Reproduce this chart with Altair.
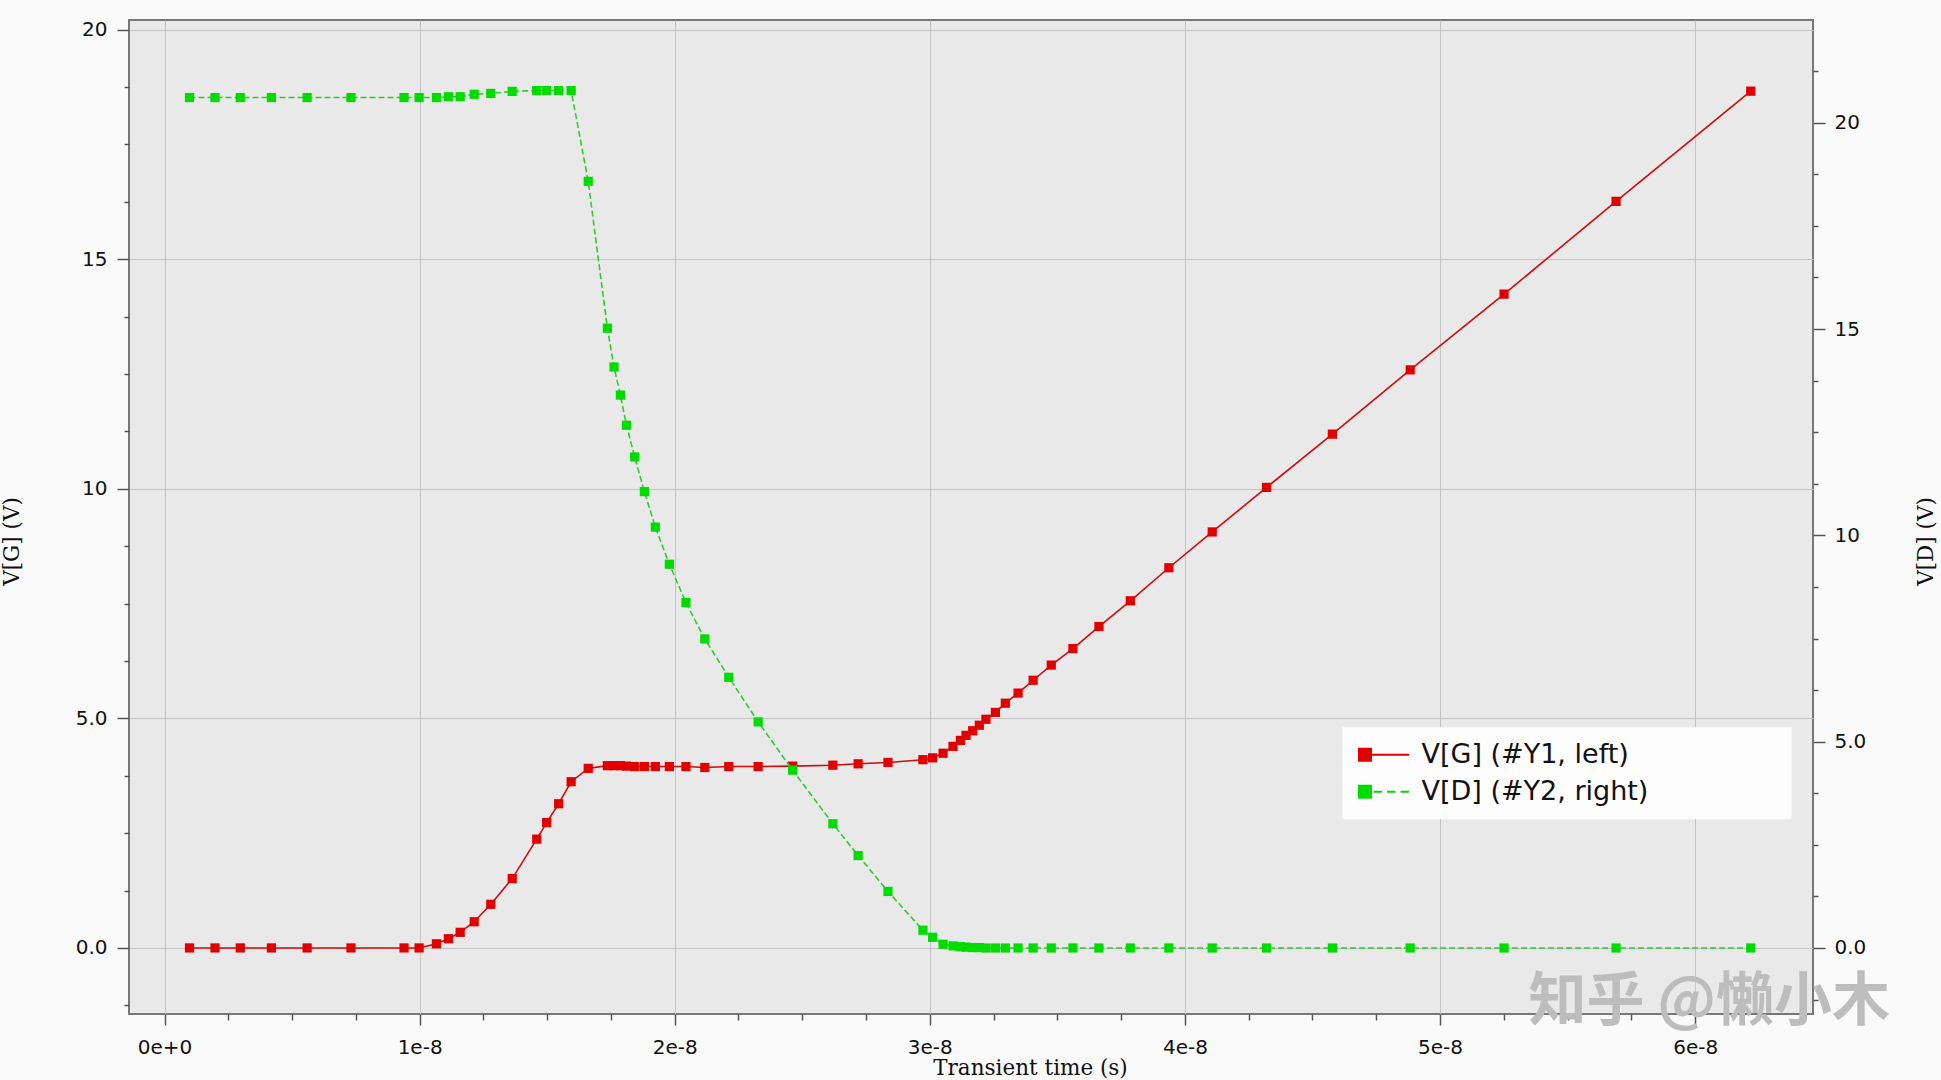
import altair as alt
import pandas as pd

# ---- data (time in units of 1e-8 s) ----
TIME_E8 = [0.098, 0.198, 0.297, 0.419, 0.559, 0.731, 0.939, 0.998,
           1.066, 1.113, 1.159, 1.214, 1.279, 1.363,
           1.459, 1.498, 1.545, 1.594, 1.661,
           1.736, 1.762, 1.787, 1.811, 1.843, 1.881,
           1.924, 1.979, 2.044, 2.118, 2.212, 2.327,
           2.462, 2.620, 2.719, 2.836, 2.973, 3.011, 3.052,
           3.091, 3.120, 3.142, 3.168, 3.194, 3.220,
           3.257, 3.296, 3.346, 3.405, 3.476, 3.561, 3.663, 3.786,
           3.937, 4.107, 4.320, 4.578, 4.883, 5.251, 5.690, 6.218]
VG = [0, 0, 0, 0, 0, 0, 0, 0,
      0.09, 0.20, 0.34, 0.57, 0.95, 1.51,
      2.37, 2.73, 3.14, 3.62, 3.91,
      3.97, 3.97, 3.97, 3.96, 3.95, 3.95,
      3.95, 3.95, 3.95, 3.93, 3.95, 3.95,
      3.96, 3.98, 4.01, 4.04, 4.10, 4.14, 4.24,
      4.39, 4.52, 4.63, 4.73, 4.85, 4.98,
      5.13, 5.33, 5.55, 5.83, 6.16, 6.52, 7.00, 7.56,
      8.28, 9.06, 10.03, 11.19, 12.59, 14.24, 16.26, 18.66]
VD = [20.61, 20.61, 20.61, 20.61, 20.61, 20.61, 20.61, 20.61,
      20.61, 20.63, 20.63, 20.69, 20.71, 20.76,
      20.78, 20.78, 20.78, 20.78, 18.58,
      15.02, 14.08, 13.40, 12.67, 11.90, 11.06,
      10.20, 9.30, 8.37, 7.49, 6.56, 5.48,
      4.31, 3.01, 2.24, 1.37, 0.43, 0.26, 0.09,
      0.05, 0.03, 0.02, 0.01, 0.01, 0.0,
      0, 0, 0, 0, 0, 0, 0, 0,
      0, 0, 0, 0, 0, 0, 0, 0]
SERIES = ["V[G] (#Y1, left)", "V[D] (#Y2, right)"]
X_TICKS_E8 = [0, 0.25, 0.5, 0.75, 1, 1.25, 1.5, 1.75, 2, 2.25, 2.5, 2.75, 3,
              3.25, 3.5, 3.75, 4, 4.25, 4.5, 4.75, 5, 5.25, 5.5, 5.75, 6, 6.25]
Y_LEFT_TICKS = [-1.25, 0, 1.25, 2.5, 3.75, 5, 6.25, 7.5, 8.75, 10, 11.25,
                12.5, 13.75, 15, 16.25, 17.5, 18.75, 20]
Y_RIGHT_TICKS = [-1.25, 0, 1.25, 2.5, 3.75, 5, 6.25, 7.5, 8.75, 10, 11.25,
                 12.5, 13.75, 15, 16.25, 17.5, 18.75, 20, 21.25]

df = pd.DataFrame({"t": [v * 1e-8 for v in TIME_E8], "vg": VG, "vd": VD})

RED_PT, RED_LN = "#e00000", "#d10a0a"
GRN_PT, GRN_LN = "#00dc00", "#2fcc2f"
# legend glyphs: square marker followed by a solid / dashed line (12 px per unit)
PATH_R = ("M-1,-0.583H0.167V0.583H-1Z "
          "M0.167,-0.083H3.25V0.083H0.167Z")
PATH_G = ("M-1,-0.583H0.167V0.583H-1Z "
          "M0.3,-0.083H1.0V0.083H0.3Z "
          "M1.42,-0.083H2.12V0.083H1.42Z "
          "M2.55,-0.083H3.25V0.083H2.55Z")

LABEL_FONT = "DejaVu Sans"
TITLE_FONT = "DejaVu Serif"
X_MAJOR = "abs(datum.value*1e8 - round(datum.value*1e8)) < 1e-6"
Y_MAJOR = "abs(datum.value/5 - round(datum.value/5)) < 1e-6"
Y_LABEL = f"({Y_MAJOR}) ? (datum.value === 0 ? '0.0' : format(datum.value, '.2r')) : ''"

common_axis = dict(
    domain=False, tickColor="#555555", tickWidth=1.5,
    labelFont=LABEL_FONT, labelFontSize=20, labelColor="#111111",
    labelOverlap=False, labelFlush=False,
    titleFont=TITLE_FONT, titleFontSize=21.5, titleFontWeight="normal",
    titleColor="#111111", gridColor="#c3c3c3", gridWidth=1,
)

x_axis = alt.Axis(
    values=[v * 1e-8 for v in X_TICKS_E8],
    labelExpr=f"({X_MAJOR}) ? format(datum.value, '.0e') : ''",
    tickSize={"condition": {"test": X_MAJOR, "value": 11}, "value": 6},
    gridOpacity={"condition": {"test": X_MAJOR, "value": 1}, "value": 0},
    labelPadding=12, title="Transient time (s)",
    titleX=901, titleY=54, titleBaseline="middle", titleAlign="center",
    **common_axis,
)
yl_axis = alt.Axis(
    orient="left", values=Y_LEFT_TICKS, labelExpr=Y_LABEL,
    tickSize={"condition": {"test": Y_MAJOR, "value": 12}, "value": 5},
    gridOpacity={"condition": {"test": Y_MAJOR, "value": 1}, "value": 0},
    labelPadding=10, title="V[G] (V)",
    titleX=-117, titleY=521, titleAngle=270, titleBaseline="middle", titleAlign="center",
    **common_axis,
)
yr_axis = alt.Axis(
    orient="right", values=Y_RIGHT_TICKS, grid=False, labelExpr=Y_LABEL,
    tickSize={"condition": {"test": Y_MAJOR, "value": 12}, "value": 5},
    labelPadding=9, title="V[D] (V)",
    titleX=113, titleY=521, titleAngle=270, titleBaseline="middle", titleAlign="center",
    **common_axis,
)

x_enc = alt.X("t:Q", scale=alt.Scale(domain=[-0.1392e-8, 6.462e-8], nice=False, zero=False), axis=x_axis)
yl_enc = alt.Y("vg:Q", scale=alt.Scale(domain=[-1.439, 20.21], nice=False, zero=False), axis=yl_axis)
yr_enc = alt.Y("vd:Q", scale=alt.Scale(domain=[-1.60, 22.49], nice=False, zero=False), axis=yr_axis)

# non-breaking spaces closed by a zero-width space so the padding is not trimmed
LABEL_PAD = "\\u00a0" * 15 + "\\u200b"
LEG = alt.Legend(
    orient="none", legendX=1213.5, legendY=707.3, direction="vertical",
    title=None, fillColor="#fdfdfd", padding=14,
    symbolSize=576, symbolStrokeWidth=0, symbolOpacity=1,
    labelFont=LABEL_FONT, labelFontSize=27, labelColor="#111111",
    labelLimit=900, labelOffset=38, rowPadding=9,
    labelExpr=f"datum.label + '{LABEL_PAD}'",
)

base = alt.Chart(df)

legend_layer = base.transform_filter("false").mark_point(filled=True, opacity=1).encode(
    x=x_enc, y=yl_enc,
    color=alt.Color("series:N", scale=alt.Scale(domain=SERIES, range=[RED_PT, GRN_PT]), legend=LEG),
    shape=alt.Shape("series:N", scale=alt.Scale(domain=SERIES, range=[PATH_R, PATH_G]), legend=LEG),
)

vg_line = base.mark_line(color=RED_LN, strokeWidth=1.6).encode(x=x_enc, y=yl_enc)
vg_pts = base.mark_point(shape="square", filled=True, size=85, color=RED_PT, opacity=1).encode(x=x_enc, y=yl_enc)
vd_line = base.mark_line(color=GRN_LN, strokeWidth=1.6, strokeDash=[6, 3]).encode(x=x_enc, y=yr_enc)
vd_pts = base.mark_point(shape="square", filled=True, size=85, color=GRN_PT, opacity=1).encode(x=x_enc, y=yr_enc)

layer_g = alt.layer(legend_layer, vg_line, vg_pts)
layer_d = alt.layer(vd_line, vd_pts)

chart = alt.layer(layer_g, layer_d).resolve_scale(y="independent").properties(
    width=1684, height=994,
    autosize=alt.AutoSizeParams(type="none"),
    padding={"left": 129, "top": 20, "right": 128, "bottom": 66},
    background="#fafafa",
    title=alt.TitleParams(
        text="知乎 @懒小木", orient="top", anchor="end", frame="group",
        font="Noto Sans CJK SC", fontSize=58, fontWeight="bold", color="#bdbdbd",
        baseline="bottom", offset=0, dx=77, dy=1070,
    ),
).configure_view(fill="#e9e9e9", stroke="#777777", strokeWidth=2)

chart.save("out.html", embed_options={"renderer": "svg", "actions": False})
